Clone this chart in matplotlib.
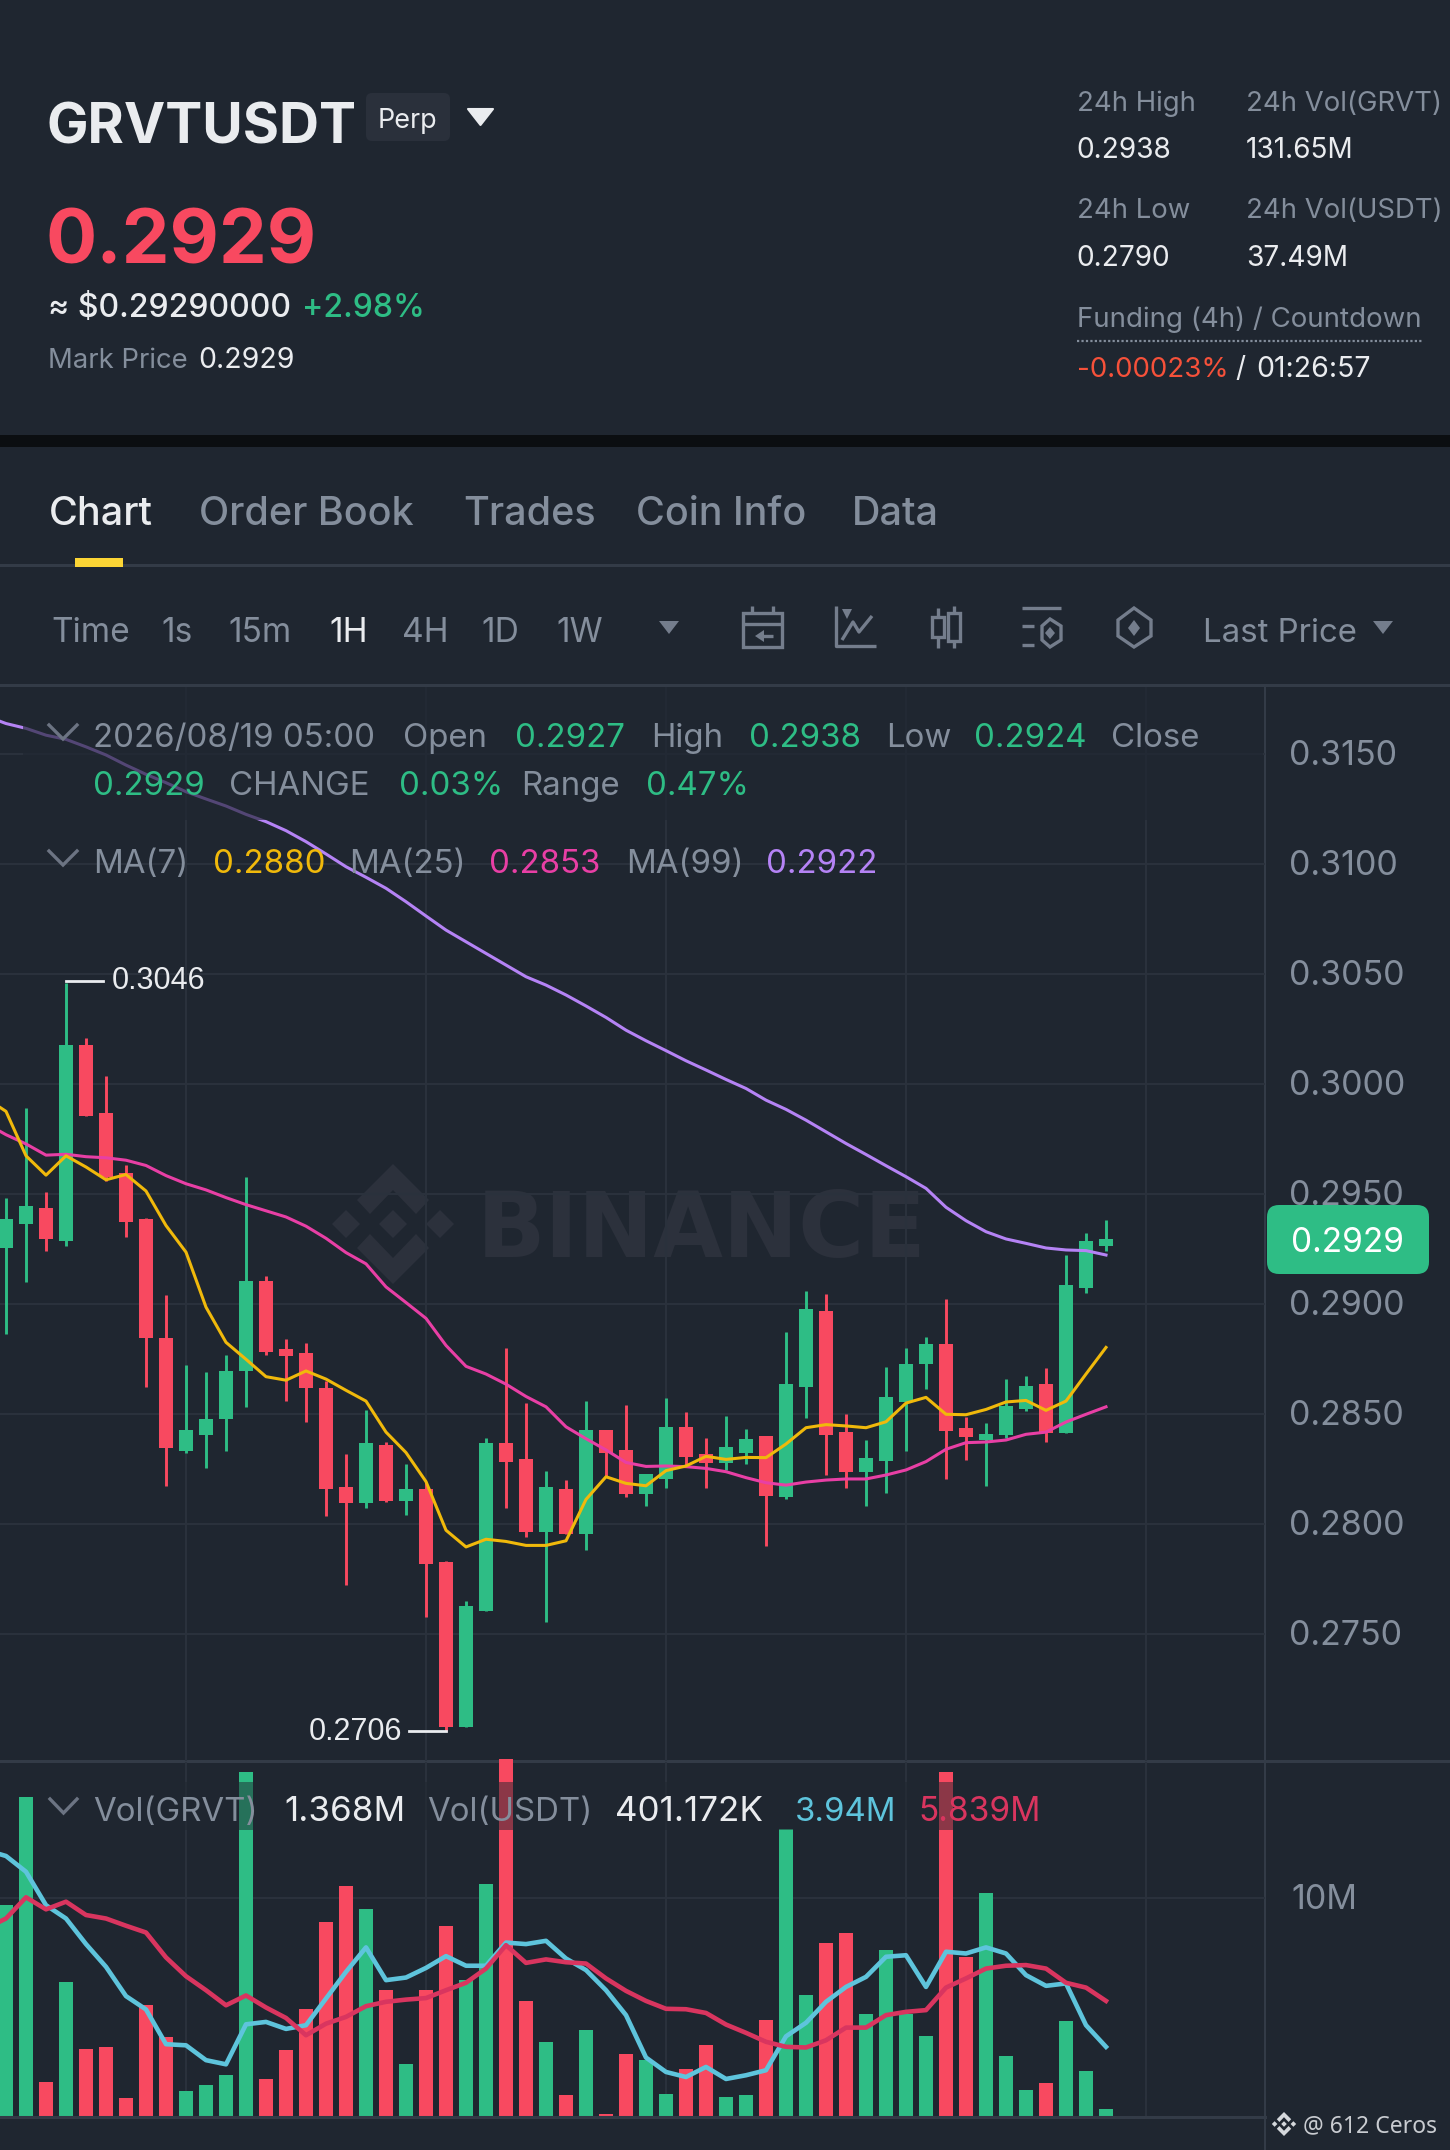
#!/usr/bin/env python3
"""Perp market screen: header, candlesticks with MA lines, volume panel."""
import matplotlib
matplotlib.use("Agg")
import matplotlib.pyplot as plt
from matplotlib.patches import FancyBboxPatch, Polygon, Rectangle
from matplotlib.transforms import ScaledTranslation
import numpy as np

W, H = 1450, 2150
plt.rcParams["font.family"] = ["Inter", "DejaVu Sans"]

BG = "#1f2630"
GRID = "#2a313c"
SEP = "#333b47"
GREEN = "#2ebd85"
RED = "#f84960"
GREY = "#848e9c"
WHITE = "#eaecef"
WMARK = "#2c313c"
C_MA7 = "#f0b90b"
C_MA25 = "#e83fa5"
C_MA99 = "#b583f5"
C_VMA5 = "#5ec4dc"
C_VMA10 = "#d9355f"

# candles, oldest first (reading of the picture, price units)
opens = [.29255, .29364, .29436, .29285, .30178, .29867, .29596, .29387, .28847, .28334,
         .28404, .28476, .28696, .29106, .28798, .28777, .28619, .28167, .28095, .28360,
         .28105, .28160, .27829, .27077, .27606, .28369, .28297, .27965, .28160, .27954,
         .28429, .28338, .28135, .28205, .28440, .28318, .28276, .28324, .28399, .28124,
         .28624, .28968, .28418, .28235, .28285, .28555, .28726, .28818, .28438, .28382,
         .28403, .28524, .28638, .28415, .29074, .29264]
highs = [.29480, .29890, .29510, .30458, .30210, .30039, .29630, .29392, .29039, .28721,
         .28691, .28770, .29579, .29129, .28840, .28821, .28649, .28320, .28520, .28371,
         .28274, .28193, .27833, .27652, .28392, .28800, .28550, .28241, .28200, .28559,
         .28429, .28541, .28227, .28571, .28511, .28390, .28491, .28430, .28399, .28871,
         .29061, .29048, .28500, .28382, .28712, .28800, .28852, .29021, .28488, .28461,
         .28661, .28671, .28711, .29221, .29321, .29382]
lows = [.28863, .29102, .29243, .29262, .29853, .29561, .29303, .28622, .28172, .28322,
        .28253, .28332, .28534, .28770, .28561, .28462, .28035, .27722, .28072, .28102,
        .28042, .27576, .27061, .27077, .27606, .28072, .27942, .27553, .27954, .27884,
        .28218, .28121, .28083, .28162, .28268, .28162, .28246, .28273, .27902, .28112,
        .28483, .28223, .28162, .28083, .28142, .28332, .28612, .28203, .28293, .28173,
        .28392, .28512, .28371, .28412, .29052, .29241]
closes = [.29387, .29447, .29296, .30178, .29853, .29577, .29375, .28847, .28346, .28427,
          .28478, .28698, .29106, .28784, .28763, .28617, .28158, .28095, .28369, .28105,
          .28160, .27817, .27077, .27629, .28369, .28283, .27965, .28167, .27954, .28427,
          .28324, .28135, .28227, .28440, .28305, .28276, .28349, .28388, .28126, .28638,
          .28977, .28405, .28235, .28299, .28577, .28727, .28818, .28424, .28396, .28408,
          .28538, .28627, .28415, .29086, .29286, .29298]

# MA lines start one candle before the first visible one
ma7 = [.29936, .29876, .29674, .29586, .29674, .29623, .29565, .29589, .29514, .29357,
       .29236, .28986, .28826, .28749, .28670, .28654, .28696, .28659, .28608, .28559,
       .28418, .28325, .28193, .27972, .27896, .27931, .27921, .27903, .27903, .27924,
       .28112, .28215, .28185, .28174, .28243, .28264, .28308, .28294, .28303, .28302,
       .28364, .28438, .28452, .28446, .28438, .28465, .28550, .28576, .28499, .28497,
       .28521, .28555, .28562, .28517, .28559, .28682, .28803]
ma25 = [.29821, .29770, .29728, .29677, .29681, .29670, .29665, .29654, .29630, .29584,
        .29547, .29519, .29484, .29452, .29424, .29396, .29354, .29299, .29234, .29183,
        .29078, .29007, .28935, .28812, .28717, .28682, .28636, .28580, .28533, .28442,
        .28388, .28337, .28280, .28262, .28264, .28261, .28253, .28238, .28211, .28188,
        .28177, .28191, .28200, .28205, .28205, .28223, .28246, .28284, .28340, .28370,
        .28373, .28382, .28408, .28418, .28464, .28499, .28533]
ma99 = [.31673, .31639, .31617, .31586, .31567, .31533, .31496, .31450, .31408, .31370,
        .31329, .31296, .31264, .31226, .31193, .31152, .31102, .31046, .30988, .30940,
        .30890, .30829, .30764, .30700, .30647, .30594, .30541, .30488, .30450, .30405,
        .30355, .30303, .30245, .30197, .30152, .30106, .30064, .30021, .29980, .29927,
        .29885, .29836, .29783, .29730, .29680, .29629, .29579, .29526, .29440, .29379,
        .29329, .29296, .29276, .29255, .29246, .29243, .29223]

# volume in millions
volumes = [9.68, 14.64, 1.62, 6.17, 3.10, 3.18, 0.85, 5.11, 3.68, 1.21,
           1.45, 1.94, 15.76, 1.74, 3.05, 4.92, 8.93, 10.55, 9.51, 5.80,
           2.44, 5.80, 8.73, 6.26, 10.67, 16.38, 5.31, 3.45, 0.99, 4.00,
           0.15, 2.90, 2.60, 1.04, 2.18, 3.31, 0.93, 0.99, 4.43, 13.16,
           5.57, 7.95, 8.40, 4.73, 7.63, 4.73, 3.69, 15.80, 7.33, 10.27,
           2.78, 1.24, 1.54, 4.40, 2.12, 0.35]
vol_ma5 = [12.21, 11.94, 11.22, 9.69, 9.08, 7.91, 6.87, 5.53, 4.92, 3.33,
           3.28, 2.60, 2.41, 4.24, 4.35, 4.03, 4.20, 5.42, 6.64, 7.76,
           6.26, 6.38, 6.82, 7.36, 6.92, 6.92, 7.98, 7.91, 8.06, 7.25,
           6.72, 5.80, 4.66, 2.72, 2.06, 1.83, 2.29, 1.74, 1.91, 2.14,
           3.69, 4.31, 5.27, 5.95, 6.41, 7.33, 7.40, 5.95, 7.56, 7.48,
           7.76, 7.48, 6.49, 6.00, 6.11, 4.20, 3.21]
vol_ma10 = [8.63, 9.08, 10.05, 9.50, 9.85, 9.24, 9.08, 8.75, 8.44, 7.30,
            6.44, 5.80, 5.11, 5.56, 5.01, 4.53, 3.74, 4.27, 4.58, 5.07,
            5.27, 5.37, 5.44, 5.80, 6.14, 6.79, 7.86, 7.05, 7.21, 7.08,
            7.02, 6.34, 5.77, 5.31, 4.95, 4.93, 4.76, 4.23, 3.85, 3.44,
            3.21, 3.18, 3.51, 4.09, 4.09, 4.66, 4.81, 4.89, 5.92, 6.34,
            6.79, 6.92, 6.95, 6.79, 6.14, 5.92, 5.31]

price_ticks = [0.2750, 0.2800, 0.2850, 0.2900, 0.2950, 0.3000, 0.3050, 0.3100, 0.3150]
vol_ticks = [10]
vol_tick_labels = ["10M"]
time_ticks = [9, 21, 33, 45, 57]


def add_axes(x0, y0, x1, y1, z):
    ax = fig.add_axes([x0 / W, 1 - y1 / H, (x1 - x0) / W, (y1 - y0) / H], zorder=z)
    ax.patch.set_alpha(0)
    for s in ax.spines.values():
        s.set_visible(False)
    return ax


def px(ax, x, y, s, size, color, weight="normal", **kw):
    # x, y in screen pixels, y is the baseline; size is the em size in pixels
    return ax.text(x, y, s, fontsize=size * 0.72, color=color, fontweight=weight,
                   va="baseline", **kw)


def binance_logo(ax, cx, cy, k, color, zorder=1):
    d = [(0, -14), (14, 0), (0, 14), (-14, 0)]
    for ox in (-47, 0, 47):
        ax.add_patch(Polygon([(cx + (ox + a) * k, cy + b * k) for a, b in d],
                             fc=color, ec="none", zorder=zorder))
    arm = [(0, -60), (36, -24), (23, -10), (0, -34), (-23, -10), (-36, -24)]
    for sign in (1, -1):
        ax.add_patch(Polygon([(cx + a * k, cy + sign * b * k) for a, b in arm],
                             fc=color, ec="none", zorder=zorder))


def chevron(ax, x0, x1, y0, y1):
    ax.plot([x0, (x0 + x1) / 2, x1], [y0, y1, y0], color="#6c7483", lw=2.4,
            solid_joinstyle="miter")


fig = plt.figure(figsize=(W / 100, H / 100), dpi=100, facecolor=BG)

# ── screen furniture under the charts ──────────────────────────────
bg = add_axes(0, 0, W, H, 0)
bg.set_xlim(0, W)
bg.set_ylim(H, 0)
bg.axis("off")
bg.add_patch(Rectangle((0, 435), W, 12, fc="#0b0e11", ec="none"))
bg.add_patch(Rectangle((0, 564), W, 3, fc=SEP, ec="none"))
bg.add_patch(Rectangle((75, 558), 48, 9, fc="#fcd535", ec="none"))
bg.add_patch(Rectangle((0, 684), W, 3, fc=SEP, ec="none"))
bg.add_patch(Rectangle((0, 1760), W, 3, fc=SEP, ec="none"))
bg.add_patch(Rectangle((1264, 687), 2, H - 687, fc=SEP, ec="none"))

# watermark
binance_logo(bg, 393, 1224, 1.0, WMARK)
px(bg, 477, 1257, "BINANCE", 90, WMARK, "bold", family=["DejaVu Sans"])

# header
px(bg, 47, 144, "GRVTUSDT", 55.5, WHITE, "bold")
bg.add_patch(FancyBboxPatch((370, 97), 76, 40, boxstyle="round,pad=4,rounding_size=6",
                            fc="#2a303b", ec="none"))
px(bg, 378, 128, "Perp", 27, WHITE)
bg.add_patch(Polygon([(468, 109), (493, 109), (480.5, 125)], fc=WHITE, ec=WHITE, lw=1.5, joinstyle="round"))
px(bg, 46, 263, "0.2929", 76, RED, "bold")
px(bg, 48, 317, "≈ $0.29290000", 32, WHITE, "medium")
px(bg, 302, 317, "+2.98%", 32, GREEN, "medium")
px(bg, 48, 368, "Mark Price", 27.5, GREY)
px(bg, 198, 368, "0.2929", 28.5, WHITE)

px(bg, 1077, 111, "24h High", 27.5, GREY)
px(bg, 1246, 111, "24h Vol(GRVT)", 27.5, GREY)
px(bg, 1076, 158, "0.2938", 28, WHITE)
px(bg, 1246, 158, "131.65M", 28, WHITE)
px(bg, 1077, 218, "24h Low", 27.5, GREY)
px(bg, 1246, 218, "24h Vol(USDT)", 27.5, GREY)
px(bg, 1076, 266, "0.2790", 28, WHITE)
px(bg, 1246, 266, "37.49M", 28, WHITE)
px(bg, 1077, 327, "Funding (4h) / Countdown", 27.7, GREY)
bg.plot([1077, 1422], [341, 341], color=GREY, lw=1.6, ls=(0, (1, 1)))
px(bg, 1077, 377, "-0.00023%", 27.7, "#f6513a")
px(bg, 1235, 377, "/", 28, WHITE)
px(bg, 1256, 377, "01:26:57", 28.5, WHITE)

# tabs
tab_names = ["Chart", "Order Book", "Trades", "Coin Info", "Data"]
tab_x = [49, 199, 463, 636, 852]
for i, (name, x) in enumerate(zip(tab_names, tab_x)):
    px(bg, x, 525, name, 39.5, WHITE if i == 0 else GREY, "medium")

# toolbar
tool_names = ["Time", "1s", "15m", "1H", "4H", "1D", "1W"]
tool_x = [51, 161, 228, 329, 402, 481, 556]
for name, x in zip(tool_names, tool_x):
    px(bg, x, 642, name, 33.5, WHITE if name == "1H" else GREY)
px(bg, 1203, 642, "Last Price", 33, GREY)
ICON = "#747d8c"
for cx in (669, 1383):
    bg.add_patch(Polygon([(cx - 10, 621), (cx + 10, 621), (cx, 634)], fc=ICON, ec="none"))
icon_kw = dict(color=ICON, lw=2.4, solid_capstyle="butt")
# calendar
bg.add_patch(Rectangle((743, 613), 39, 34, fc="none", ec=ICON, lw=2.4))
bg.plot([743, 782], [624, 624], **icon_kw)
bg.plot([752, 752], [606, 613], **icon_kw)
bg.plot([773, 773], [606, 613], **icon_kw)
bg.plot([758, 773], [636, 636], **icon_kw)
bg.add_patch(Polygon([(755, 636), (764, 630), (764, 642)], fc=ICON, ec="none"))
# drawing tool
bg.plot([836, 836, 876], [606, 646, 646], **icon_kw)
bg.plot([842, 853, 859, 872], [640, 622, 632, 616], **icon_kw)
bg.add_patch(Polygon([(842, 609), (852, 609), (847, 619)], fc=ICON, ec="none"))
# candle type
bg.plot([938, 938], [608, 648], **icon_kw)
bg.plot([954, 954], [606, 648], **icon_kw)
bg.add_patch(Rectangle((932, 617), 12, 20, fc=BG, ec=ICON, lw=2.4, zorder=3))
bg.add_patch(Rectangle((948, 613), 12, 28, fc=BG, ec=ICON, lw=2.4, zorder=3))
# settings
bg.plot([1022, 1061], [608, 608], **icon_kw)
bg.plot([1022, 1034], [626, 626], **icon_kw)
bg.plot([1022, 1034], [645, 645], **icon_kw)
bg.add_patch(Polygon([(1050, 619), (1061, 626), (1061, 640), (1050, 647), (1042, 640), (1042, 626)],
                     fc="none", ec=ICON, lw=2.4))
bg.add_patch(Polygon([(1050, 627), (1055, 633), (1050, 639), (1045, 633)], fc=ICON, ec="none"))
# hexagon
bg.add_patch(Polygon([(1134, 608), (1151, 620), (1151, 636), (1134, 647), (1118, 636), (1118, 620)],
                     fc="none", ec=ICON, lw=2.4))
bg.add_patch(Polygon([(1134, 620), (1140, 628), (1134, 636), (1128, 628)], fc=ICON, ec="none"))

# ── price panel ───────────────────────────────────────────────────
x_candle = np.arange(len(opens))
x_ma = np.arange(-1, len(opens))
opens_a, closes_a = np.array(opens), np.array(closes)
colours = [GREEN if c >= o else RED for o, c in zip(opens, closes)]

ax = add_axes(0, 687, 1265, 1761, 2)
ax.set_xlim(-0.3, 62.95)
ax.set_ylim(0.26923, 0.31805)
ax.set_xticks(time_ticks)
ax.set_yticks(price_ticks)
ax.set_yticklabels([f"{t:.4f}" for t in price_ticks])
ax.grid(True, color=GRID, lw=1.5)
ax.set_axisbelow(True)
ax.tick_params(axis="x", length=0, labelbottom=False)
ax.tick_params(axis="y", length=0, left=False, labelleft=False, labelright=True,
               pad=17, labelsize=24.5, labelcolor=GREY)
for lab in ax.get_yticklabels():
    lab.set_transform(lab.get_transform() + ScaledTranslation(0, 2 / 100, fig.dpi_scale_trans))

ax.vlines(x_candle, lows, highs, colors=colours, lw=2.1, zorder=3)
ax.bar(x_candle, closes_a - opens_a, bottom=opens_a, width=0.7, color=colours, zorder=3)
ax.plot(x_ma, ma99, color=C_MA99, lw=2.2, zorder=4)
ax.plot(x_ma, ma25, color=C_MA25, lw=2.2, zorder=4)
ax.plot(x_ma, ma7, color=C_MA7, lw=2.2, zorder=5)

i_hi, i_lo = int(np.argmax(highs)), int(np.argmin(lows))
ax.plot([i_hi, i_hi + 1.85], [highs[i_hi] + 0.00012] * 2, color=WHITE, lw=2, zorder=6)
ax.annotate(f"{highs[i_hi]:.4f}", (i_hi + 2.3, highs[i_hi] + 0.00012), color=WHITE, fontsize=22,
            family=["Liberation Sans"], va="center", zorder=6)
ax.plot([i_lo - 1.85, i_lo], [lows[i_lo]] * 2, color=WHITE, lw=2, zorder=6)
ax.annotate(f"{lows[i_lo]:.4f}", (i_lo - 2.2, lows[i_lo] - 0.00008), color=WHITE, fontsize=22,
            family=["Liberation Sans"], ha="right", va="center", zorder=6)

# ── volume panel ──────────────────────────────────────────────────
vx = add_axes(0, 1762, 1265, 2117, 3)
vx.set_xlim(-0.3, 62.95)
vx.set_ylim(0, 16.24)
vx.set_xticks(time_ticks)
vx.set_yticks(vol_ticks)
vx.set_yticklabels(vol_tick_labels)
vx.grid(True, color=GRID, lw=1.5)
vx.set_axisbelow(True)
vx.tick_params(axis="x", length=0, labelbottom=False)
vx.tick_params(axis="y", length=0, left=False, labelleft=False, labelright=True,
               pad=19, labelsize=24.5, labelcolor=GREY)
for lab in vx.get_yticklabels():
    lab.set_transform(lab.get_transform() + ScaledTranslation(0, 2 / 100, fig.dpi_scale_trans))
vx.bar(x_candle, volumes, width=0.7, color=colours, zorder=3, clip_on=False)
vx.plot(x_ma, vol_ma5, color=C_VMA5, lw=3.3, zorder=4)
vx.plot(x_ma, vol_ma10, color=C_VMA10, lw=3.3, zorder=5)
vx.axhline(0, color=SEP, lw=2.2, zorder=6, clip_on=False)

# ── legends and tags on top of the charts ─────────────────────────
fg = add_axes(0, 0, W, H, 5)
fg.set_xlim(0, W)
fg.set_ylim(H, 0)
fg.axis("off")
fg.add_patch(Rectangle((23, 687), 1240, 133, fc=BG, ec="none", alpha=0.65))
fg.add_patch(Rectangle((47, 1782), 1000, 48, fc=BG, ec="none", alpha=0.5))

chevron(fg, 49, 77, 725, 739)
ohlc_row = [("2026/08/19 05:00", 93, GREY), ("Open", 403, GREY), ("0.2927", 515, GREEN),
            ("High", 651, GREY), ("0.2938", 749, GREEN), ("Low", 886, GREY),
            ("0.2924", 974, GREEN), ("Close", 1111, GREY)]
for s, x, c in ohlc_row:
    px(fg, x, 747, s, 33, c)
change_row = [("0.2929", 93, GREEN), ("CHANGE", 229, GREY), ("0.03%", 399, GREEN),
              ("Range", 521, GREY), ("0.47%", 646, GREEN)]
for s, x, c in change_row:
    px(fg, x, 795, s, 33, c)
chevron(fg, 49, 77, 851, 865)
ma_row = [("MA(7)", 93, GREY), ("0.2880", 213, C_MA7), ("MA(25)", 349, GREY),
          ("0.2853", 489, C_MA25), ("MA(99)", 626, GREY), ("0.2922", 766, C_MA99)]
for s, x, c in ma_row:
    px(fg, x, 873, s, 33, c)
chevron(fg, 50, 77, 1799, 1813)
vol_row = [("Vol(GRVT)", 93, GREY, 33), ("1.368M", 284, WHITE, 35), ("Vol(USDT)", 427, GREY, 33),
           ("401.172K", 615, WHITE, 35), ("3.94M", 795, C_VMA5, 33), ("5.839M", 918, C_VMA10, 33.5)]
for s, x, c, size in vol_row:
    px(fg, x, 1821, s, size, c)

fg.add_patch(FancyBboxPatch((1277, 1215), 142, 49, boxstyle="round,pad=10,rounding_size=12",
                            fc=GREEN, ec="none"))
fg.text(1348, 1252, "0.2929", fontsize=24, color="white", ha="center", va="baseline")

binance_logo(fg, 1284, 2124, 0.2, "#d5d8dc", zorder=6)
fg.text(1303, 2132, "@ 612 Ceros", fontsize=16.5, color="#c9ccd1", family=["Noto Sans"], va="baseline")

fig.savefig("out.png", dpi=100, facecolor=BG)
